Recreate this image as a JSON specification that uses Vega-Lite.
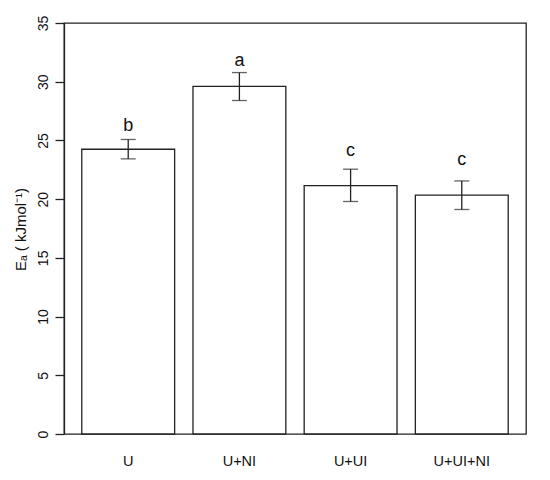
{
  "$schema": "https://vega.github.io/schema/vega-lite/v6.json",
  "autosize": "none",
  "width": 462,
  "height": 411,
  "padding": {"left": 64, "top": 23, "right": 24, "bottom": 46},
  "background": "white",
  "config": {
    "font": "Liberation Sans",
    "view": {"stroke": "#222", "strokeWidth": 1.3}
  },
  "data": {
    "values": [
      {"treatment": "U", "Ea": 24.25, "lo": 23.43, "hi": 25.08, "letter": "b", "letterY": 25.8},
      {"treatment": "U+NI", "Ea": 29.6, "lo": 28.4, "hi": 30.78, "letter": "a", "letterY": 31.3},
      {"treatment": "U+UI", "Ea": 21.15, "lo": 19.8, "hi": 22.55, "letter": "c", "letterY": 23.7},
      {"treatment": "U+UI+NI", "Ea": 20.35, "lo": 19.12, "hi": 21.55, "letter": "c", "letterY": 22.9}
    ]
  },
  "encoding": {
    "x": {
      "field": "treatment",
      "type": "nominal",
      "sort": null,
      "title": null,
      "scale": {"paddingInner": 0.165, "paddingOuter": 0.16},
      "axis": {
        "domain": false,
        "ticks": false,
        "tickSize": 0,
        "labelAngle": 0,
        "labelFontSize": 14.5,
        "labelColor": "#111",
        "labelPadding": 20,
        "labelBaseline": "top"
      }
    }
  },
  "layer": [
    {
      "mark": {"type": "bar", "fill": "white", "stroke": "#222", "strokeWidth": 1.3},
      "encoding": {
        "y": {
          "field": "Ea",
          "type": "quantitative",
          "scale": {"domain": [0, 35], "nice": false, "zero": true},
          "title": "Eₐ ( kJmol⁻¹)",
          "axis": {
            "values": [0, 5, 10, 15, 20, 25, 30, 35],
            "grid": false,
            "domainColor": "#222",
            "domainWidth": 1.3,
            "tickColor": "#222",
            "tickWidth": 1.3,
            "tickSize": 9,
            "labelAngle": -90,
            "labelAlign": "center",
            "labelBaseline": "alphabetic",
            "labelPadding": 8,
            "labelFontSize": 14,
            "labelColor": "#111",
            "titleFontSize": 15,
            "titleFontWeight": "normal",
            "titleColor": "#111",
            "titleAngle": -90,
            "titleAlign": "center",
            "titleBaseline": "alphabetic",
            "titleX": -39,
            "titleY": 206
          }
        }
      }
    },
    {
      "mark": {"type": "rule", "stroke": "#222", "strokeWidth": 1.3},
      "encoding": {
        "y": {"field": "lo", "type": "quantitative"},
        "y2": {"field": "hi"}
      }
    },
    {
      "mark": {"type": "tick", "color": "#222", "size": 15, "thickness": 1.3},
      "encoding": {
        "y": {"field": "lo", "type": "quantitative"}
      }
    },
    {
      "mark": {"type": "tick", "color": "#222", "size": 15, "thickness": 1.3},
      "encoding": {
        "y": {"field": "hi", "type": "quantitative"}
      }
    },
    {
      "mark": {"type": "text", "fontSize": 18, "color": "#111", "baseline": "alphabetic", "align": "center"},
      "encoding": {
        "y": {"field": "letterY", "type": "quantitative"},
        "text": {"field": "letter", "type": "nominal"}
      }
    }
  ]
}
